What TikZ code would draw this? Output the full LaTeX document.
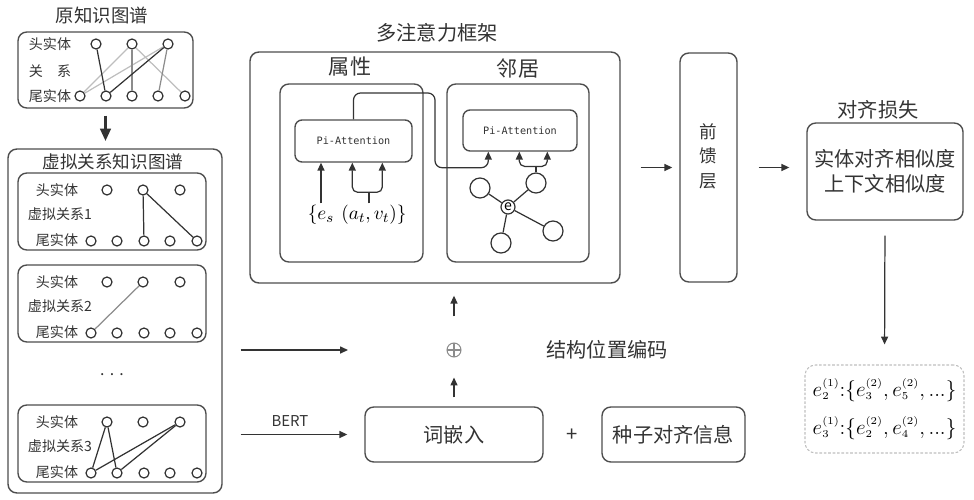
\documentclass[tikz,border=0pt]{standalone}
\usepackage{fontspec}
\setmainfont{Noto Sans CJK SC}
\setmonofont{DejaVu Sans Mono}
\usepackage{amsmath, amssymb}
\usetikzlibrary{positioning, calc, arrows.meta}
\definecolor{Dark}{HTML}{333333}
\definecolor{Frame}{HTML}{4D4D4D}
\definecolor{Mid}{HTML}{8C8C8C}
\definecolor{Soft}{HTML}{BEBEBE}
\tikzset{
    box/.style={draw=Frame, line width=0.8pt, rounded corners=5pt},
    ent/.style={circle, draw=Dark, line width=0.7pt, minimum size=0.2cm, inner sep=0pt},
    nbnode/.style={circle, draw=Dark, line width=0.7pt, minimum size=0.4cm, inner sep=0pt},
    lbl/.style={font=\fontsize{8}{9}\selectfont, text=Dark, inner sep=0pt},
    ttl/.style={font=\fontsize{10.5}{12}\selectfont, text=Dark},
    big/.style={font=\fontsize{11.5}{14}\selectfont, text=Dark, align=center},
    pa/.style={box, rounded corners=4pt, font=\ttfamily\fontsize{5.8}{7}\selectfont, text=Dark},
    arr/.style={-{Triangle[length=4.5pt,width=4pt]}, line width=0.7pt, color=Dark},
    link/.style={line width=0.7pt, color=Dark},
    oplus/.style={circle, draw=Mid, line width=0.6pt, minimum size=0.28cm, inner sep=0pt,
        path picture={\draw[Mid, line width=0.6pt]
            (path picture bounding box.north) -- (path picture bounding box.south)
            (path picture bounding box.west) -- (path picture bounding box.east);}},
}
\newcommand{\entx}[2]{e_{\scriptscriptstyle #1}^{\scriptscriptstyle(#2)}}

\begin{document}
\begin{tikzpicture}[x=0.02cm, y=-0.02cm]
    \useasboundingbox (0,0) rectangle (974,500);

    % 原知识图谱
    \node[ttl] (ttl0) at (102,15) {原知识图谱};
    \node[box, minimum width=3.5cm, minimum height=1.52cm] (kg) at (105.5,70) {};
    \node[lbl] (la0) at (50,44) {头实体};
    \node[lbl] (lb0) at (50,71) {关\hspace{1em}系};
    \node[lbl] (lc0) at (50,96) {尾实体};
    \foreach \i/\xx in {1/96, 2/132, 3/168}
        \node[ent] (h0\i) at (\xx,44) {};
    \foreach \i/\xx in {1/80, 2/106, 3/132, 4/158, 5/185}
        \node[ent] (t0\i) at (\xx,96) {};
    \draw[link, Soft] (h02) -- (t01);
    \draw[link, Soft] (h03) -- (t01);
    \draw[link, Soft] (h02) -- (t05);
    \draw[link, Mid] (h02) -- (t03);
    \draw[link, Mid] (h03) -- (t04);
    \draw[link] (h01) -- (t02);
    \draw[link] (h03) -- (t02);

    \draw[-{Triangle[length=7pt,width=6pt]}, line width=1.4pt, Dark, shorten <=0.14cm, shorten >=0.16cm]
        (kg.south) -- (kg.south |- 0,149);

    % 虚拟关系知识图谱
    \node[box, minimum width=4.28cm, minimum height=6.88cm] (vkg) at (115,321) {};
    \node[ttl, font=\fontsize{10}{12}\selectfont] (ttl1) at (113,162) {虚拟关系知识图谱};
    \foreach \k/\yy in {1/173, 2/265, 3/405} {
        \node[box, minimum width=3.76cm, minimum height=1.54cm] (sg\k) at (112,\yy+38.5) {};
        \node[lbl] (la\k) at (57,\yy+17) {头实体};
        \node[lbl] (lb\k) at (60,\yy+41) {虚拟关系\k};
        \node[lbl] (lc\k) at (57,\yy+67) {尾实体};
        \foreach \i/\xx in {1/107, 2/143, 3/180}
            \node[ent] (h\k\i) at (\xx,\yy+17) {};
        \foreach \i/\xx in {1/91, 2/117, 3/144, 4/170, 5/197}
            \node[ent] (t\k\i) at (\xx,\yy+68) {};
    }
    \draw[link] (h12) -- (t13);
    \draw[link] (h12) -- (t15);
    \draw[link, Mid] (h22) -- (t21);
    \draw[link] (h31) -- (t31);
    \draw[link] (h31) -- (t32);
    \draw[link] (h33) -- (t31);
    \draw[link] (h33) -- (t32);
    \node[lbl, font=\fontsize{9}{10}\selectfont] (dots) at (112,375) {.\hspace{3pt}.\hspace{3pt}.};

    % 多注意力框架
    \node[ttl, font=\fontsize{11.5}{13}\selectfont] (ttl2) at (437,33) {多注意力框架};
    \node[box, minimum width=7.4cm, minimum height=4.62cm] (mat) at (435,167.5) {};
    \node[box, minimum width=2.86cm, minimum height=3.56cm] (attr) at (351.5,173) {};
    \node[box, minimum width=2.84cm, minimum height=3.56cm] (nbr) at (518,173) {};
    \node[big, font=\fontsize{12}{14}\selectfont] (ttl3) at (350,67) {属性};
    \node[big, font=\fontsize{12}{14}\selectfont] (ttl4) at (518,68) {邻居};
    \node[pa, minimum width=2.34cm, minimum height=0.84cm] (pa1) at (353.5,141) {Pi-Attention};
    \node[pa, minimum width=2.28cm, minimum height=0.82cm] (pa2) at (520,130.5) {Pi-Attention};

    % 属性输入
    \node[font=\fontsize{11}{12}\selectfont, inner sep=1pt] (es) at (321,215) {$\{e_s$};
    \node[font=\fontsize{11}{12}\selectfont, inner sep=1pt] (atvt) at (374,215) {$(a_t,v_t)\}$};
    \draw[arr] (es.north) -- (es.north |- pa1.south);
    \draw[link, rounded corners=3pt] ($(atvt.north)+(-5,0)$) -- ++(0,-11) coordinate (fk1);
    \draw[arr, rounded corners=3pt] (fk1) -| ($(pa1.south west)+(58,0)$);
    \draw[arr, rounded corners=3pt] (fk1) -| ($(pa1.south west)+(88,0)$);

    % 邻居
    \node[circle, draw=Dark, line width=0.7pt, minimum size=0.28cm, inner sep=0pt,
        font=\fontsize{8}{9}\selectfont] (ce) at (508,207) {e};
    \foreach \i/\xx/\yy in {1/480/188, 2/536/183, 3/553/231, 4/501/243} {
        \node[nbnode] (nb\i) at (\xx,\yy) {};
        \draw[link] (ce) -- (nb\i);
    }
    \draw[link, rounded corners=3pt] (nb2.north) -- ++(0,-6) coordinate (fk2);
    \draw[arr, rounded corners=3pt] (fk2) -| ($(pa2.south west)+(57,0)$);
    \draw[arr, rounded corners=3pt] (fk2) -| ($(pa2.south west)+(85,0)$);
    \draw[arr, rounded corners=4pt] (pa1.north) |- (435,93) |- ($(pa2.south west)+(26,16)$)
        -- ($(pa2.south west)+(26,0)$);

    % 前馈层
    \node[box, minimum width=1.14cm, minimum height=4.58cm] (ffn) at (708.5,167.5) {};
    \node[big, font=\fontsize{10}{14}\selectfont] (ffnt) at (708.5,156) {前\\馈\\层};
    \draw[arr, shorten <=0.4cm, shorten >=0.14cm] (mat.east) -- (ffn.west);

    % 对齐损失
    \node[ttl, font=\fontsize{11.5}{13}\selectfont] (ttl5) at (878,110) {对齐损失};
    \node[box, big, minimum width=3.12cm, minimum height=1.94cm] (loss) at (885,171.5)
        {实体对齐相似度\\上下文相似度};
    \draw[arr, shorten <=0.42cm, shorten >=0.34cm] (ffn.east) -- (ffn.east -| loss.west);

    \node[draw=Soft, dash pattern=on 1.5pt off 1pt, line width=0.6pt, rounded corners=6pt,
        minimum width=3.18cm, minimum height=1.76cm, align=center,
        font=\fontsize{13}{21.5}\selectfont] (res) at (884.5,409)
        {$\entx{2}{1}{:}\{\entx{3}{2},\entx{5}{2},...\}$\\
         $\entx{3}{1}{:}\{\entx{2}{2},\entx{4}{2},...\}$};
    \draw[arr, shorten <=0.3cm, shorten >=0.4cm] (loss.south) -- (res.north);

    % 输入部分
    \node[box, big, minimum width=3.56cm, minimum height=1.1cm] (emb) at (454,434.5) {词嵌入};
    \node[box, big, minimum width=2.86cm, minimum height=1.1cm] (seed) at (673.5,434.5) {种子对齐信息};
    \node[big] (pl) at (572,435) {+};
    \node[oplus] (plus) at (454,350) {};
    \node[big] (pos) at (607,350) {结构位置编码};
    \coordinate (g1) at (348,350);
    \draw[arr, shorten <=0.36cm] (vkg.east |- g1) -- (g1);
    \draw[arr, shorten <=0.36cm, shorten >=0.34cm] (vkg.east |- emb.west) -- (emb.west);
    \node[font=\fontsize{8.5}{10}\selectfont, text=Dark] (bert) at (290,421) {BERT};
    \draw[arr, shorten <=0.18cm, shorten >=0.4cm] (emb.north) -- (plus.south);
    \draw[arr, shorten <=0.52cm, shorten >=0.24cm] (plus.north) -- (plus.north |- mat.south);
\end{tikzpicture}
\end{document}
